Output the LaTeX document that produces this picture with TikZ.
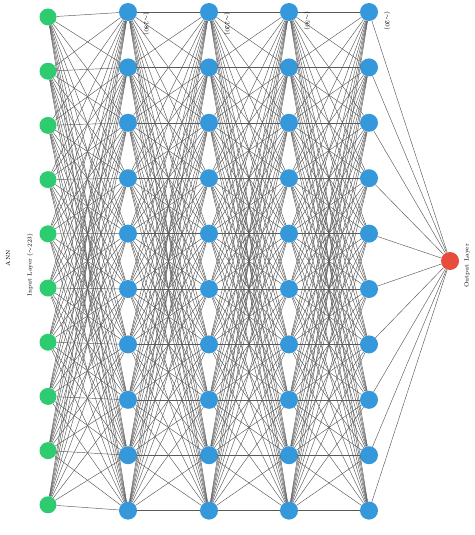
\documentclass[tikz,border=0pt]{standalone}
\usepackage{amsmath,amssymb}
\definecolor{cgreen}{RGB}{46,204,113}
\definecolor{cblue}{RGB}{52,152,219}
\definecolor{cred}{RGB}{231,76,60}
\definecolor{gris}{RGB}{90,90,90}
\usepackage{tikz}

\begin{document}
\begin{tikzpicture}[x=1pt, y=-1pt, thin]
  \tikzset{neuron/.style={circle, minimum size=18pt, inner sep=0pt, draw=none},
           link/.style={draw=gris, line width=0.45pt},
           lbl/.style={font=\fontsize{6}{7}\selectfont, inner sep=0pt}}
  \useasboundingbox (0,0) rectangle (474,535);

  % input layer
  \foreach \j in {1,...,10}
    \node[neuron, fill=cgreen, minimum size=17pt] (I\j) at (48,{17+54.2*(\j-1)}) {};

  % hidden layers
  \foreach \l/\xx in {1/128, 2/209, 3/289, 4/369}{
    \foreach \j in {1,...,10}{
      \node[neuron, fill=cblue] (H\l-\j) at (\xx,{12+55.4*(\j-1)}) {};
    }
  }

  % output layer
  \node[neuron, fill=cred] (O) at (450,261) {};

  % connections
  \foreach \i in {1,...,10}
    \foreach \j in {1,...,10}
      \path[link] (I\i) -- (H1-\j);
  \foreach \l/\m in {1/2, 2/3, 3/4}
    \foreach \i in {1,...,10}
      \foreach \j in {1,...,10}
        \path[link] (H\l-\i) -- (H\m-\j);
  \foreach \i in {1,...,10}
    \path[link] (H4-\i) -- (O);

  % labels
  \node[lbl, rotate=90] (lann) at (8,258) {ANN};
  \node[lbl, rotate=90] (lin) at (30,265) {Input Layer ($\sim$223)};
  \node[lbl, rotate=-90] (lh1) at (146,24) {($\sim$280)};
  \node[lbl, rotate=-90] (lh2) at (227,24) {($\sim$220)};
  \node[lbl, rotate=-90] (lh3) at (307,21) {($\sim$50)};
  \node[lbl, rotate=-90] (lh4) at (387,21) {($\sim$20)};
  \node[lbl, rotate=90] (lout) at (467,266) {Output Layer};

\end{tikzpicture}
\end{document}
